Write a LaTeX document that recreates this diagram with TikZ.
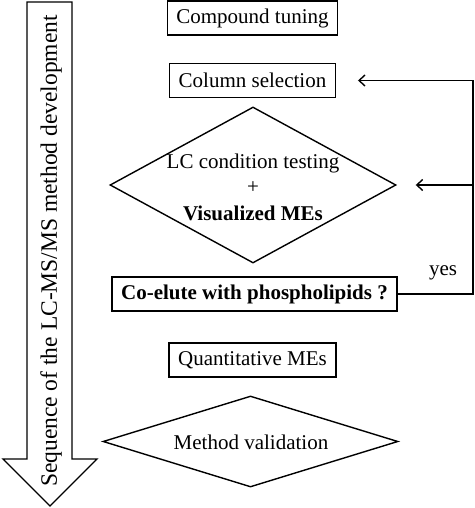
\documentclass[tikz,border=0pt]{standalone}
\usepackage{fontspec}
\setmainfont{Liberation Serif}
\usetikzlibrary{arrows.meta,shapes.geometric}
\begin{document}
\begin{tikzpicture}[x=1pt,y=-1pt,
  lw/.style={line width=1.4pt},
  txtfont/.style={font=\fontsize{21}{24}\selectfont},
  box/.style={draw,lw,txtfont,inner xsep=9pt,inner ysep=0pt,minimum height=34pt},
  dia/.style={draw,lw,shape=diamond,inner sep=0pt},
  txt/.style={txtfont,inner sep=0pt},
  arr/.style={lw,-{Straight Barb[length=6pt,width=11pt]}}]
\useasboundingbox (0,0) rectangle (474,508);

% big sequence arrow
\draw[lw,fill=white] (27,2) -- (72,2) -- (72,459) -- (97,459) -- (50,506) -- (3,459) -- (27,459) -- cycle;
\node[rotate=90,font=\fontsize{23.5}{27}\selectfont,inner sep=0pt] (seq) at (51,251) {Sequence of the LC-MS/MS method development};

% boxes
\node[box] (ct) at (252.5,18) {Compound tuning};
\node[box] (col) at (252.5,80.5) {Column selection};
\node[dia,minimum width=286pt,minimum height=156pt] (d1) at (253,185) {};
\node[txt] (t1) at (253,163) {LC condition testing};
\node[txt] (t2) at (253,188) {+};
\node[txt,font=\fontsize{21}{24}\selectfont\bfseries] (t3) at (253,213) {Visualized MEs};
\node[box,font=\fontsize{21}{24}\selectfont\bfseries] (co) at (254.5,294) {Co-elute with phospholipids ?};
\node[box] (qm) at (252.5,360) {Quantitative MEs};
\node[dia,minimum width=295pt,minimum height=91pt] (d2) at (250.5,441.5) {};
\node[txt] (mv) at (251,442) {Method validation};
\node[txt] (yes) at (443,273) {yes};

% feedback connectors
\coordinate (rx) at (473,0);
\draw[arr] (co.east) -- (co.east -| rx) -- (rx |- col.east) -- ([xshift=22pt]col.east);
\draw[arr] (rx |- d1.east) -- ([xshift=19pt]d1.east);
\end{tikzpicture}
\end{document}
